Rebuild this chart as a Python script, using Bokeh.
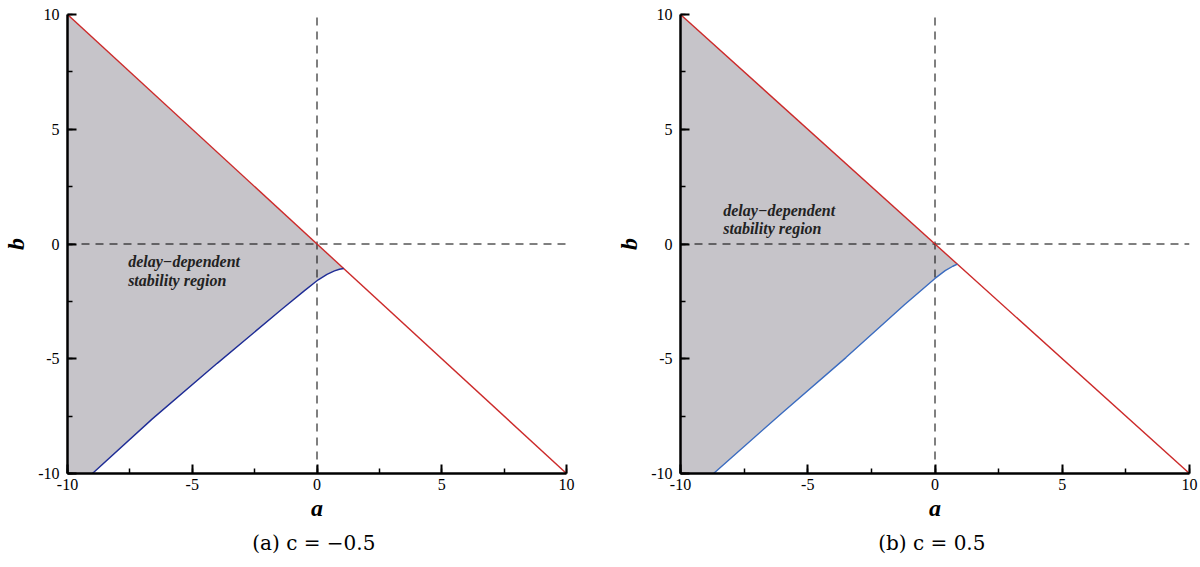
from bokeh.plotting import figure
from bokeh.layouts import row
from bokeh.models import Range1d, SingleIntervalTicker, Title, PrintfTickFormatter
from bokeh.core.properties import value
from bokeh.embed import file_html
from bokeh.resources import INLINE

# ---- data ----
red_a = [-10, 10]
red_b = [10, -10]

# panel (a) c = -0.5 : lower boundary of stability region
blue_a_left = [-9.0, -6.6, -4.0, -1.4, -0.5, 0.05, 0.4, 0.7, 0.9, 1.07]
blue_b_left = [-10.0, -7.62, -5.2, -2.83, -2.03, -1.56, -1.32, -1.17, -1.1, -1.07]

# panel (b) c = 0.5
blue_a_right = [-8.7, -6.0, -3.5, -1.2, 0.0, 0.4, 0.7, 0.88]
blue_b_right = [-10.0, -7.35, -4.95, -2.65, -1.5, -1.16, -0.97, -0.88]

captions = ["(a)  c = \u22120.5", "(b)  c = 0.5"]
region_text = ["delay\u2212dependent", "stability region"]
text_pos_left = ([-7.57, -7.57], [-0.78, -1.6])
text_pos_right = ([-8.32, -8.32], [1.46, 0.67])

RED = "#cc2a2a"
GREY = "#c6c4c9"
SERIF = "'Liberation Serif', serif"


def make_panel(blue_a, blue_b, blue_color, caption, tpos, width, height,
               bl, br, bt, bb):
    p = figure(width=width, height=height,
               x_range=Range1d(-10, 10), y_range=Range1d(-10, 10),
               output_backend="svg", toolbar_location=None,
               min_border_left=bl, min_border_right=br,
               min_border_top=bt, min_border_bottom=bb)
    p.grid.visible = False
    p.outline_line_color = None
    p.background_fill_color = "white"
    p.border_fill_color = "white"

    # shaded region: above blue curve, below red line, right of a=-10
    end_a = blue_a[-1]
    xs = [red_a[0], end_a] + blue_a[::-1] + [red_a[0]]
    ys = [red_b[0], -end_a] + blue_b[::-1] + [-10]
    p.patch(xs, ys, fill_color=GREY, line_color=None)

    # dashed axes lines
    p.line([-10, 10], [0, 0], line_color="black", line_width=1, line_dash="8 6")
    p.line([0, 0], [-10, 10], line_color="black", line_width=1, line_dash="8 6")

    p.line(red_a, red_b, line_color=RED, line_width=1.4)
    p.line(blue_a, blue_b, line_color=blue_color, line_width=1.4)

    p.text(tpos[0], tpos[1], text=region_text,
           text_font=value(SERIF), text_font_size="16px",
           text_font_style="bold italic", text_align="left",
           text_baseline="middle", text_color="#222222")

    for ax in (p.xaxis[0], p.yaxis[0]):
        ax.ticker = SingleIntervalTicker(interval=5, num_minor_ticks=2)
        ax.formatter = PrintfTickFormatter(format="%d")
        ax.axis_line_width = 2.5
        ax.axis_line_color = "black"
        ax.major_tick_in = 9
        ax.major_tick_out = 0
        ax.minor_tick_in = 5
        ax.minor_tick_out = 0
        ax.major_tick_line_width = 2
        ax.minor_tick_line_width = 1.5
        ax.major_label_text_font = SERIF
        ax.major_label_text_font_size = "16px"
        ax.major_label_text_color = "black"
        ax.axis_label_text_font = SERIF
        ax.axis_label_text_font_size = "24px"
        ax.axis_label_text_font_style = "bold italic"
        ax.axis_label_text_color = "black"
    p.xaxis.axis_label = "a"
    p.yaxis.axis_label = "b"
    p.xaxis.major_label_standoff = 5
    p.xaxis.axis_label_standoff = 2
    p.yaxis.major_label_standoff = 8
    p.yaxis.axis_label_standoff = 6

    t = Title(text=caption, align="center", text_font="DejaVu Serif",
              text_font_size="20px", text_font_style="normal",
              text_color="black", standoff=10)
    p.add_layout(t, "below")
    return p


left = make_panel(blue_a_left, blue_b_left, "#1f2d96", captions[0],
                  text_pos_left, 600, 567, 62, 34, 14, 93)
right = make_panel(blue_a_right, blue_b_right, "#3b6cc0", captions[1],
                   text_pos_right, 600, 567, 80, 11, 8, 94)

layout = row(left, right)
open("out.html", "w").write(file_html(layout, INLINE))
